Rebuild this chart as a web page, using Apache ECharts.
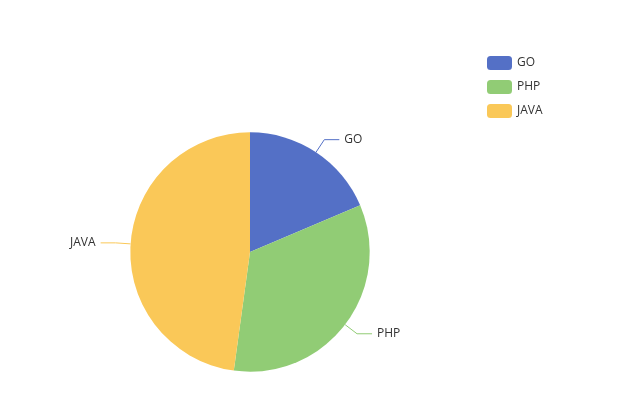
<!DOCTYPE html>
<html>
<head>
<meta charset="utf-8">
<script src="https://cdn.jsdelivr.net/npm/echarts@6/dist/echarts.min.js"></script>
<style>
  html, body { margin: 0; padding: 0; background: #fff; }
  #main { width: 625px; height: 420px; }
</style>
</head>
<body>
<div id="main"></div>
<script>
const languages = ['GO', 'PHP', 'JAVA']
const counts = [56, 101, 144]

const chart = echarts.init(document.querySelector('#main'))
chart.setOption({
  color: ['#5470c6', '#91cc75', '#fac858'],
  textStyle: {
    fontFamily: 'Open Sans'
  },
  legend: {
    orient: 'vertical',
    left: 482,
    top: 51,
    itemGap: 10,
    textStyle: { color: '#333', fontSize: 12 },
    data: languages
  },
  series: [{
    type: 'pie',
    center: ['40%', '60%'],
    radius: '57%',
    label: { color: '#333', fontSize: 12 },
    labelLine: { length: 15, length2: 15 },
    data: languages.map((name, i) => ({ name, value: counts[i] }))
  }]
})
</script>
</body>
</html>
